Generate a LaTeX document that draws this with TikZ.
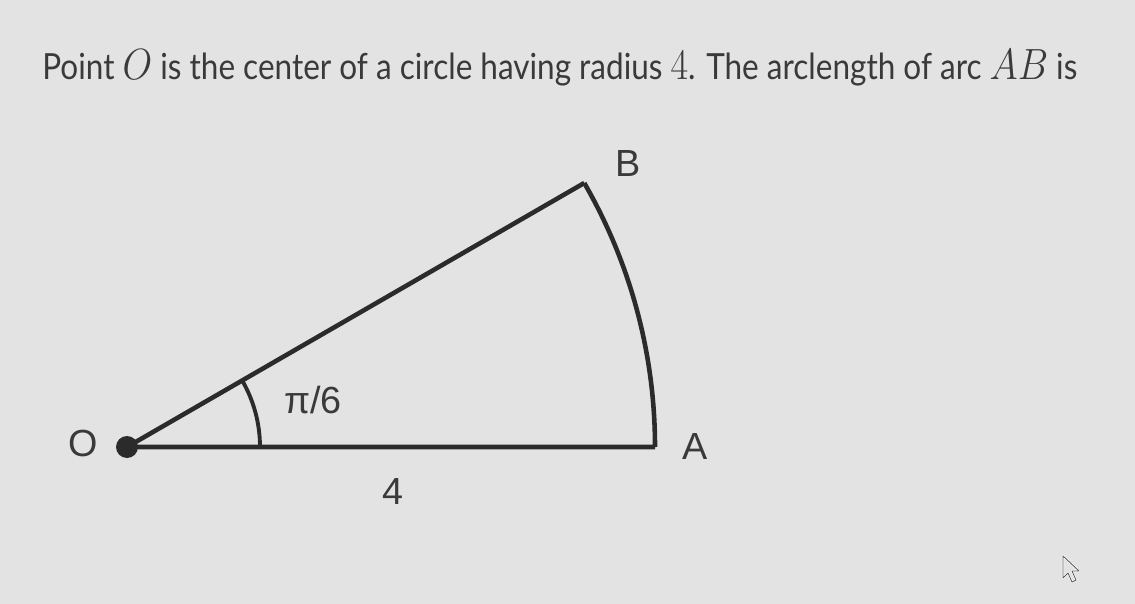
\documentclass[tikz,border=0pt]{standalone}
\usepackage[no-math]{fontspec}
\usetikzlibrary{calc}
\setmainfont{Lato}
\newfontfamily\labelfont{Liberation Sans}
\definecolor{bgc}{HTML}{E3E3E3}
\definecolor{ink}{HTML}{2B2B2B}
\definecolor{txt}{HTML}{3A3A3A}
\begin{document}
\begin{tikzpicture}[x=0.02cm,y=-0.02cm,
  edge/.style={draw=ink,line width=2.6pt},
  lbl/.style={text=txt,font=\labelfont\fontsize{21.5}{25}\selectfont,inner sep=0pt,anchor=center},
  title/.style={text=txt,font=\fontsize{20.5}{24}\selectfont,inner sep=0pt,anchor=base west}]
\fill[bgc] (0,0) rectangle (1135,604);
\useasboundingbox (0,0) rectangle (1135,604);
% title
\node[title] (t) at (42,80) {\scalebox{0.875}[1]{Point {\fontsize{25}{28}\selectfont$O$} is the center of a circle having radius {\fontsize{25}{28}\selectfont$4$}. The arclength of arc {\fontsize{25}{28}\selectfont$AB$} is}};
% geometry
\coordinate (O) at (127,447);
\coordinate (A) at (655,447);
\coordinate (B) at ($(O)+(30:528 and -528)$);
\draw[edge,line join=round] (A) -- (O) -- (B);
\draw[edge] (A) arc[start angle=0,end angle=-30,x radius=528,y radius=528];
\draw[edge,line width=2.2pt] ($(O)+(133,0)$) arc[start angle=0,end angle=-30,x radius=133,y radius=133];
\fill[ink] (O) circle (11);
% labels
\node[lbl] (lO) at (83,443) {O};
\node[lbl] (lA) at (695,447) {A};
\node[lbl] (lB) at (628,164) {B};
\node[lbl] (l4) at (393,492) {4};
\node[lbl] (lang) at (313,400) {π/6};
% cursor
\draw[white,line width=1.2pt,line join=round,fill=bgc]
  (1063,556) -- (1063,578) -- (1068,573) -- (1072,582) -- (1076,580) -- (1072,571) -- (1079,571) -- cycle;
\draw[gray!70!black,line width=0.5pt,line join=round]
  (1063,556) -- (1063,578) -- (1068,573) -- (1072,582) -- (1076,580) -- (1072,571) -- (1079,571) -- cycle;
\end{tikzpicture}
\end{document}
